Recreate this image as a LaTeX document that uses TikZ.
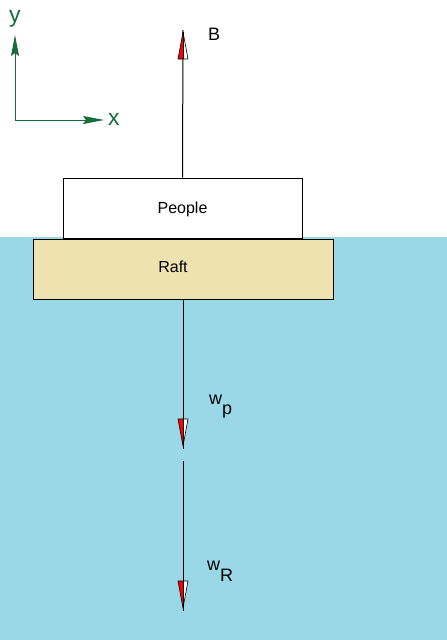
\documentclass[tikz,border=0pt]{standalone}
\usepackage{fontspec}
\setmainfont{Liberation Sans}
\usetikzlibrary{positioning,arrows.meta}
\definecolor{water}{RGB}{154,216,232}
\definecolor{raftcol}{RGB}{238,226,176}
\definecolor{axisgreen}{RGB}{22,108,58}
\tikzset{
  body/.style={draw, line width=1pt, minimum width=#1, minimum height=60pt, inner sep=0pt},
  bodytext/.style={font=\fontsize{16}{18}\selectfont},
  force/.style={line width=1pt},
  halfhead/.pic={
    \fill[red] (0,0) -- (-5,-27) -- (0,-27) -- cycle;
    \fill[white] (0,0) -- (5,-27) -- (0,-27) -- cycle;
    \draw[line width=1pt] (0,0) -- (0,-27);
    \draw[line width=0.6pt, line join=round] (0,0) -- (-5,-27) -- (5,-27) -- cycle;
  },
  axis/.style={axisgreen, line width=1pt,
    {Stealth[length=21pt,width=8pt,inset=3pt]}-{Stealth[length=21pt,width=8pt,inset=3pt]}},
  axislab/.style={anchor=base west, inner sep=0pt, text=axisgreen, font=\fontsize{23}{25}\selectfont},
  lab/.style={anchor=base west, inner sep=0pt, font=\fontsize{18}{20}\selectfont}
}
\begin{document}
\begin{tikzpicture}[x=1pt, y=-1pt]
	\useasboundingbox (0,0) rectangle (447,640);
	\fill[white] (0,0) rectangle (447,640);
	\fill[water] (0,237) rectangle (447,640);
	% axes
	\coordinate (origin) at (15,120);
	\coordinate (xend) at (104,120);
	\coordinate (yend) at (15,35);
	\draw[axis] (yend) -- (origin) -- (xend);
	\node[axislab] (xlab) at (108,125) {x};
	\node[axislab] (ylab) at (9,22) {y};
	% raft and people
	\node[body=300pt, fill=raftcol, label={[xshift=-10pt, yshift=2pt, bodytext]center:Raft}] (raft) at (183,269) {};
	\node[body=239pt, fill=white, above=0pt of raft, xshift=-0.5pt, label={[yshift=-1pt, bodytext]center:People}] (people) {};
	% forces
	\coordinate (Btip) at (183,30);
	\coordinate (wptip) at (183,449);
	\coordinate (wRstart) at (183,461);
	\coordinate (wRtip) at (183,611);
	\draw[force] (people.north) -- (Btip);
	\pic[yscale=-1] at (183,32) {halfhead};
	\draw[force] (raft.south) -- (wptip);
	\pic at (183,446) {halfhead};
	\draw[force] (wRstart) -- (wRtip);
	\pic at (183,608) {halfhead};
	\node[lab] (Blab) at (208,40) {B};
	\node[lab] (wplab) at (209,404) {w\raisebox{-10pt}{p}};
	\node[lab] (wRlab) at (207,570) {w\raisebox{-11pt}{R}};
\end{tikzpicture}
\end{document}
